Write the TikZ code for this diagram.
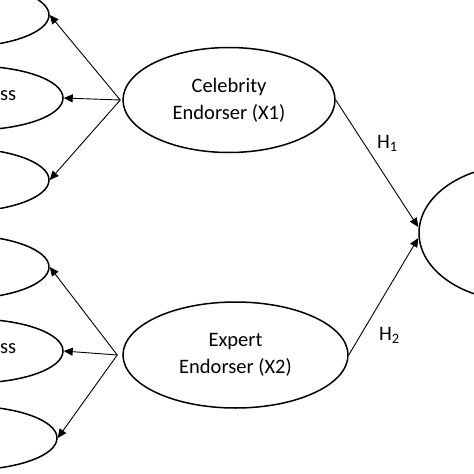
\documentclass[tikz,border=0pt]{standalone}
\usepackage{fontspec}
\setmainfont{Carlito}
\usetikzlibrary{shapes.geometric,arrows.meta}
\tikzset{
  lat/.style={draw=black, line width=1.5pt, ellipse, inner sep=0pt},
  ind/.style={lat, minimum width=180pt, minimum height=64pt},
  txt/.style={font=\fontsize{20.5}{27}\selectfont, align=center},
  arr/.style={draw=black, line width=0.9pt, -{Triangle[length=9pt,width=8pt]}}
}
\begin{document}
\begin{tikzpicture}[x=1pt,y=-1pt]
\useasboundingbox (0,0) rectangle (474,474);
\clip (0,0) rectangle (474,474);
% latent constructs
\node[lat, minimum width=212pt, minimum height=105pt, txt] (cel) at (229,100) {Celebrity\\Endorser (X1)};
\node[lat, minimum width=225pt, minimum height=106pt, txt] (exp) at (235.5,355) {Expert\\Endorser (X2)};
\node[lat, minimum width=200pt, minimum height=136pt] (r) at (519,233) {};
% indicators
\node[ind] (a1) at (-41,15) {};
\node[ind] (a2) at (-27,98) {};
\node[ind] (a3) at (-41,180) {};
\node[ind] (b1) at (-41,267) {};
\node[ind] (b2) at (-27,351) {};
\node[ind] (b3) at (-33,438) {};
\node[txt, anchor=base west, inner sep=0pt] (ta2) at (0,100) {ss};
\node[txt, anchor=base west, inner sep=0pt] (tb2) at (0,353) {ss};
% arrows
\coordinate (cw) at ([xshift=-2pt]cel.west);
\coordinate (ew) at ([xshift=-5pt]exp.west);
\draw[arr] (cw) -- (a1.east);
\draw[arr] (cw) -- (a2.east);
\draw[arr] (cw) -- (a3.east);
\draw[arr] (ew) -- (b1.east);
\draw[arr] (ew) -- (b2.east);
\draw[arr] (ew) -- (b3.east);
\coordinate (r1) at ([yshift=6pt]r.west);
\coordinate (r2) at ([yshift=-5pt]r.west);
\draw[arr] (cel.east) -- (r1);
\draw[arr] (exp.east) -- (r2);
\node[txt, anchor=base west, inner sep=0pt] (h1) at (377,148) {H\textsubscript{1}};
\node[txt, anchor=base west, inner sep=0pt] (h2) at (379,340) {H\textsubscript{2}};
\end{tikzpicture}
\end{document}
